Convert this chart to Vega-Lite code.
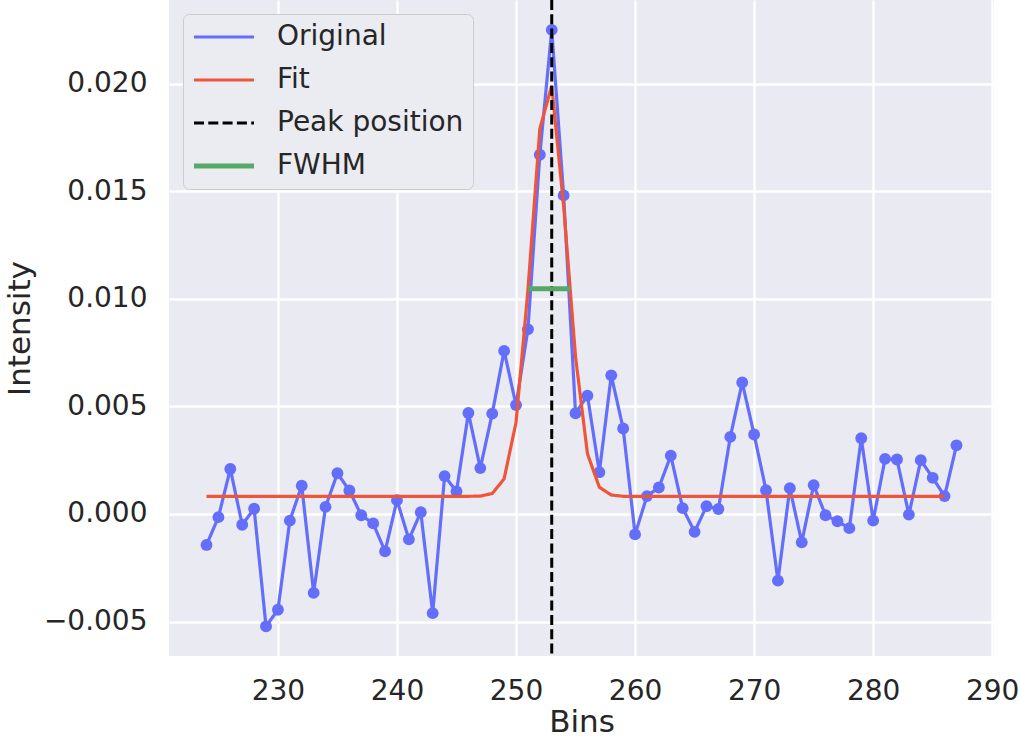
{
  "$schema": "https://vega.github.io/schema/vega-lite/v6.json",
  "width": 825,
  "height": 656,
  "autosize": {"type": "none"},
  "padding": {"left": 169, "top": 0, "right": 26, "bottom": 82},
  "background": "#ffffff",
  "config": {
    "font": "DejaVu Sans",
    "view": {"fill": "#EAEAF2", "stroke": null},
    "axis": {
      "domain": false,
      "ticks": false,
      "grid": true,
      "gridColor": "#ffffff",
      "gridWidth": 2.3,
      "labelFont": "DejaVu Sans",
      "labelFontSize": 28,
      "labelColor": "#262626",
      "labelOverlap": false,
      "labelFlush": false,
      "titleFont": "DejaVu Sans",
      "titleFontSize": 31,
      "titleFontWeight": "normal",
      "titleColor": "#262626"
    },
    "legend": {
      "orient": "none",
      "legendX": 14,
      "legendY": 14,
      "padding": 9,
      "fillColor": "#EBEBF2",
      "strokeColor": "#CCCCCC",
      "cornerRadius": 6,
      "symbolType": "stroke",
      "symbolSize": 3600,
      "symbolStrokeWidth": 3,
      "symbolOffset": 18,
      "rowPadding": 15,
      "labelOffset": 39,
      "labelFont": "DejaVu Sans",
      "labelFontSize": 28,
      "labelColor": "#262626",
      "labelLimit": 400
    }
  },
  "datasets": {
    "orig": [
      {"bin": 224, "intensity": -0.00144},
      {"bin": 225, "intensity": -0.00015},
      {"bin": 226, "intensity": 0.00209},
      {"bin": 227, "intensity": -0.0005},
      {"bin": 228, "intensity": 0.00024},
      {"bin": 229, "intensity": -0.00522},
      {"bin": 230, "intensity": -0.00445},
      {"bin": 231, "intensity": -0.00031},
      {"bin": 232, "intensity": 0.00131},
      {"bin": 233, "intensity": -0.00367},
      {"bin": 234, "intensity": 0.00033},
      {"bin": 235, "intensity": 0.00189},
      {"bin": 236, "intensity": 0.00109},
      {"bin": 237, "intensity": -0.00006},
      {"bin": 238, "intensity": -0.00044},
      {"bin": 239, "intensity": -0.00174},
      {"bin": 240, "intensity": 0.00064},
      {"bin": 241, "intensity": -0.00118},
      {"bin": 242, "intensity": 0.00008},
      {"bin": 243, "intensity": -0.00461},
      {"bin": 244, "intensity": 0.00176},
      {"bin": 245, "intensity": 0.00105},
      {"bin": 246, "intensity": 0.00469},
      {"bin": 247, "intensity": 0.00213},
      {"bin": 248, "intensity": 0.00466},
      {"bin": 249, "intensity": 0.00758},
      {"bin": 250, "intensity": 0.00506},
      {"bin": 251, "intensity": 0.00858},
      {"bin": 252, "intensity": 0.01669},
      {"bin": 253, "intensity": 0.02249},
      {"bin": 254, "intensity": 0.0148},
      {"bin": 255, "intensity": 0.00468},
      {"bin": 256, "intensity": 0.0055},
      {"bin": 257, "intensity": 0.00194},
      {"bin": 258, "intensity": 0.00644},
      {"bin": 259, "intensity": 0.00397},
      {"bin": 260, "intensity": -0.00095},
      {"bin": 261, "intensity": 0.00083},
      {"bin": 262, "intensity": 0.00123},
      {"bin": 263, "intensity": 0.00271},
      {"bin": 264, "intensity": 0.00027},
      {"bin": 265, "intensity": -0.00083},
      {"bin": 266, "intensity": 0.00036},
      {"bin": 267, "intensity": 0.00023},
      {"bin": 268, "intensity": 0.00358},
      {"bin": 269, "intensity": 0.00611},
      {"bin": 270, "intensity": 0.00369},
      {"bin": 271, "intensity": 0.0011},
      {"bin": 272, "intensity": -0.0031},
      {"bin": 273, "intensity": 0.0012},
      {"bin": 274, "intensity": -0.00132},
      {"bin": 275, "intensity": 0.00134},
      {"bin": 276, "intensity": -0.00006},
      {"bin": 277, "intensity": -0.00034},
      {"bin": 278, "intensity": -0.00066},
      {"bin": 279, "intensity": 0.00352},
      {"bin": 280, "intensity": -0.00031},
      {"bin": 281, "intensity": 0.00256},
      {"bin": 282, "intensity": 0.00253},
      {"bin": 283, "intensity": -0.00003},
      {"bin": 284, "intensity": 0.0025},
      {"bin": 285, "intensity": 0.00168},
      {"bin": 286, "intensity": 0.00083},
      {"bin": 287, "intensity": 0.00319}
    ],
    "fit": [
      {"bin": 224, "intensity": 0.00082},
      {"bin": 225, "intensity": 0.00082},
      {"bin": 226, "intensity": 0.00082},
      {"bin": 227, "intensity": 0.00082},
      {"bin": 228, "intensity": 0.00082},
      {"bin": 229, "intensity": 0.00082},
      {"bin": 230, "intensity": 0.00082},
      {"bin": 231, "intensity": 0.00082},
      {"bin": 232, "intensity": 0.00082},
      {"bin": 233, "intensity": 0.00082},
      {"bin": 234, "intensity": 0.00082},
      {"bin": 235, "intensity": 0.00082},
      {"bin": 236, "intensity": 0.00082},
      {"bin": 237, "intensity": 0.00082},
      {"bin": 238, "intensity": 0.00082},
      {"bin": 239, "intensity": 0.00082},
      {"bin": 240, "intensity": 0.00082},
      {"bin": 241, "intensity": 0.00082},
      {"bin": 242, "intensity": 0.00082},
      {"bin": 243, "intensity": 0.00082},
      {"bin": 244, "intensity": 0.00082},
      {"bin": 245, "intensity": 0.00082},
      {"bin": 246, "intensity": 0.00082},
      {"bin": 247, "intensity": 0.00083},
      {"bin": 248, "intensity": 0.00095},
      {"bin": 249, "intensity": 0.00163},
      {"bin": 250, "intensity": 0.00425},
      {"bin": 251, "intensity": 0.0104},
      {"bin": 252, "intensity": 0.0179},
      {"bin": 253, "intensity": 0.0199},
      {"bin": 254, "intensity": 0.0143},
      {"bin": 255, "intensity": 0.0073},
      {"bin": 256, "intensity": 0.0028},
      {"bin": 257, "intensity": 0.00124},
      {"bin": 258, "intensity": 0.00088},
      {"bin": 259, "intensity": 0.00082},
      {"bin": 260, "intensity": 0.00082},
      {"bin": 261, "intensity": 0.00082},
      {"bin": 262, "intensity": 0.00082},
      {"bin": 263, "intensity": 0.00082},
      {"bin": 264, "intensity": 0.00082},
      {"bin": 265, "intensity": 0.00082},
      {"bin": 266, "intensity": 0.00082},
      {"bin": 267, "intensity": 0.00082},
      {"bin": 268, "intensity": 0.00082},
      {"bin": 269, "intensity": 0.00082},
      {"bin": 270, "intensity": 0.00082},
      {"bin": 271, "intensity": 0.00082},
      {"bin": 272, "intensity": 0.00082},
      {"bin": 273, "intensity": 0.00082},
      {"bin": 274, "intensity": 0.00082},
      {"bin": 275, "intensity": 0.00082},
      {"bin": 276, "intensity": 0.00082},
      {"bin": 277, "intensity": 0.00082},
      {"bin": 278, "intensity": 0.00082},
      {"bin": 279, "intensity": 0.00082},
      {"bin": 280, "intensity": 0.00082},
      {"bin": 281, "intensity": 0.00082},
      {"bin": 282, "intensity": 0.00082},
      {"bin": 283, "intensity": 0.00082},
      {"bin": 284, "intensity": 0.00082},
      {"bin": 285, "intensity": 0.00082},
      {"bin": 286, "intensity": 0.00082}
    ],
    "peak": [{"bin": 253}],
    "fwhm": [{"left": 251.0, "right": 254.55, "level": 0.01046}]
  },
  "layer": [
    {
      "data": {"name": "orig"},
      "mark": {"type": "line", "strokeWidth": 3.2},
      "encoding": {
        "x": {
          "field": "bin",
          "type": "quantitative",
          "scale": {"domain": [220.85, 290.15], "nice": false, "zero": false},
          "axis": {"title": "Bins", "values": [230, 240, 250, 260, 270, 280, 290], "labelPadding": 21, "titlePadding": 2}
        },
        "y": {
          "field": "intensity",
          "type": "quantitative",
          "scale": {"domain": [-0.0066, 0.02388], "nice": false, "zero": false},
          "axis": {"title": "Intensity", "values": [-0.005, 0, 0.005, 0.01, 0.015, 0.02], "format": ".3f", "labelPadding": 22, "titlePadding": 7}
        },
        "color": {
          "datum": "Original",
          "type": "nominal",
          "scale": {
            "domain": ["Original", "Fit", "Peak position", "FWHM"],
            "range": ["#636EFA", "#EF553B", "#000000", "#55A868"]
          },
          "legend": {
            "title": null,
            "encode": {"symbols": {"update": {"strokeWidth": {"signal": "datum.value === 'FWHM' ? 5 : 3"}}}}
          }
        },
        "strokeDash": {
          "datum": "Original",
          "type": "nominal",
          "scale": {
            "domain": ["Original", "Fit", "Peak position", "FWHM"],
            "range": [[1, 0], [1, 0], [10, 4.3], [1, 0]]
          },
          "legend": {"title": null}
        }
      }
    },
    {
      "data": {"name": "orig"},
      "mark": {"type": "point", "filled": true, "opacity": 1, "size": 140},
      "encoding": {
        "x": {"field": "bin", "type": "quantitative"},
        "y": {"field": "intensity", "type": "quantitative"},
        "color": {"value": "#636EFA"}
      }
    },
    {
      "data": {"name": "fit"},
      "mark": {"type": "line", "strokeWidth": 3.2},
      "encoding": {
        "x": {"field": "bin", "type": "quantitative"},
        "y": {"field": "intensity", "type": "quantitative"},
        "color": {"datum": "Fit", "type": "nominal"},
        "strokeDash": {"datum": "Fit", "type": "nominal"}
      }
    },
    {
      "data": {"name": "peak"},
      "mark": {"type": "rule", "strokeWidth": 3},
      "encoding": {
        "x": {"field": "bin", "type": "quantitative"},
        "color": {"datum": "Peak position", "type": "nominal"},
        "strokeDash": {"datum": "Peak position", "type": "nominal"}
      }
    },
    {
      "data": {"name": "fwhm"},
      "mark": {"type": "rule", "strokeWidth": 5},
      "encoding": {
        "x": {"field": "left", "type": "quantitative"},
        "x2": {"field": "right"},
        "y": {"field": "level", "type": "quantitative"},
        "color": {"datum": "FWHM", "type": "nominal"},
        "strokeDash": {"datum": "FWHM", "type": "nominal"}
      }
    }
  ]
}
